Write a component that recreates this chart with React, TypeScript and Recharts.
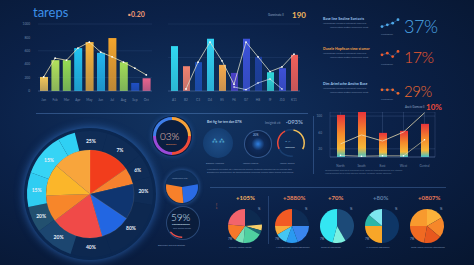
import React from 'react';
import { ComposedChart, Bar, Line, XAxis, YAxis, CartesianGrid, Cell, PieChart, Pie, LineChart } from 'recharts';

// top-left bars
const salesMonths = ['Jan', 'Feb', 'Mar', 'Apr', 'May', 'Jun', 'Jul', 'Aug', 'Sep', 'Oct'];
const salesBars = [210, 460, 460, 640, 730, 570, 790, 430, 120, 190];
const salesTrend = [210, 490, 460, 640, 730, 580, 510, 430, 340, 240];
const salesTicks = [0, 200, 400, 600, 800, 1000];
const salesColors = ['#f2c65a', '#b3e35c', '#95dc54', '#22c4f2', '#f7b43c', '#23b5ee', '#f5a52c', '#a3de58', '#1f4fc4', '#e8648e'];

// top-middle bars
const trafficCats = ['A1', 'B2', 'C3', 'D4', 'E5', 'F6', 'G7', 'H8', 'I9', 'J10', 'K11'];
const trafficBars = [67, 37, 43, 78, 39, 27, 78, 51, 28, 34, 54];
const trafficLineA = [null, 3, 43, 73, 45, 10, 73, 51, 29, 36, 55];
const trafficLineB = [null, null, null, null, null, 6, 2, 12, 18, 3, null];
const trafficColors = ['#31d9f2', '#f2826f', '#1d50b8', '#33d3f4', '#f6aa4c', '#4a40c8', '#3c52da', '#1e40a0', '#30d6da', '#3e50d8', '#f2605a'];

// right bars
const regionCats = ['North', 'South', 'East', 'West', 'Central'];
const regionBars = [103, 110, 59, 64, 81];
const regionLineA = [32, 54, 39, 61, 108];
const regionLineB = [4, 2, 3, 3, 42];
const regionTicks = [0, 20, 40, 60, 80, 100];

// KPIs
const kpiTitles = ['Base line Sealine Santacts', 'Dusele Hopfisan  view stamor', 'Dim Arimfache  Ansitw Base'];
const kpiValues = ['37%', '17%', '29%'];
const kpiColors = ['#4ea8e8', '#ee5a2e', '#f06a2e'];
const kpiSparks = [[2, 3, 4, 6], [3, 4, 2, 5], [3, 3, 3, 1]];

// big pie
const ringSpans = [30, 36, 22, 26, 60, 38, 36, 24, 32, 40, 16];
const ringTags = ['25%', '7%', '6%', '20%', '80%', '40%', '20%', '20%', '15%', '15%', ''];
const ringColors = ['#0f2c56', '#0f2c56', '#0f2c56', '#0f2c56', '#0d2850', '#0d2850', '#1c4670', '#22506f', '#2fcdf2', '#36d4f5', '#2fd0f4'];
const coreSpans = [55, 22, 47, 40, 69, 35, 42, 50];
const coreColors = ['#f23d1c', '#f7812e', '#0f3570', '#2266e2', '#f04a48', '#f7862a', '#fbb62a', '#f8a53c'];

// small charts
const gaugeSpans = [25, 25, 25, 25];
const gaugeColors = ['#f7a23a', '#ef4a3a', '#9a4ad8', '#3f7ee8'];
const miniSpans = [160, 95, 105];
const miniColors = ['#0e2d58', '#2a6be6', '#f7802a'];
const bottomLabels = ['+105%', '+3880%', '+70%', '+80%', '+0807%'];
const bottomLabelColors = ['#f4b262', '#e8845c', '#ea8a62', '#5f7fa6', '#ea7a58'];
const bottomCaptions = ['Oxfinar Sastrer Cohte', 'Mearight Ogh shiolde Bsrmuron', 'Sonar et Ushinome', 'Ar Priniaret appresene', 'Chite Worw Inarivee Stuhmerias'];
const bottomSpans = [
  [85, 20, 15, 65, 30, 60, 85],
  [90, 70, 40, 40, 30, 90],
  [150, 45, 165],
  [180, 90, 40, 50],
  [60, 70, 60, 80, 90],
];
const bottomColors = [
  ['#0d2a50', '#f7cf6a', '#1d6a72', '#4fd0a0', '#7ae0b8', '#f7782a', '#f2646c'],
  ['#0e2c55', '#3a86ee', '#2a9af0', '#44c6f2', '#f8aa3a', '#f25a24'],
  ['#1c4a78', '#7ef0e0', '#34e6f2'],
  ['#0e3666', '#f8a628', '#2cb6a8', '#7ee8f0'],
  ['#fbb23a', '#f6872a', '#e8581e', '#f06a22', '#f89a2e'],
];

const axisText = { fill: '#6f86a8', fontSize: 3.2 };
const FONT = 'Lato, "Open Sans", sans-serif';

const toRows = (cats: string[], cols: Record<string, any[]>) =>
  cats.map((c, i) => {
    const row: any = { name: c };
    Object.keys(cols).forEach((k) => (row[k] = cols[k][i]));
    return row;
  });

const toSlices = (spans: number[]) => spans.map((v, i) => ({ name: `s${i}`, value: v }));

function Txt({ x, y, size, color, children, weight = 400, style = {} }: any) {
  return (
    <div style={{ position: 'absolute', left: x, top: y, fontSize: size, color, fontWeight: weight, whiteSpace: 'nowrap', lineHeight: 1, fontFamily: FONT, ...style }}>
      {children}
    </div>
  );
}

function Box({ x, y, w, h, style = {} }: any) {
  return <div style={{ position: 'absolute', left: x, top: y, width: w, height: h, ...style }} />;
}

function Spark({ x, y, data, color }: any) {
  return (
    <div style={{ position: 'absolute', left: x, top: y }}>
      <LineChart width={20} height={16} data={data.map((v: number, i: number) => ({ i, v }))} margin={{ top: 2, right: 2, bottom: 2, left: 2 }}>
        <YAxis hide domain={[0, 7]} />
        <Line dataKey="v" stroke="#3d7fc4" strokeWidth={0.5} dot={{ r: 1.4, fill: color, stroke: 'none' }} isAnimationActive={false} />
      </LineChart>
    </div>
  );
}

function MiniPie({ cx, cy, r, spans, colors, inner = 0, start = 90 }: any) {
  const s = r * 2 + 4;
  return (
    <div style={{ position: 'absolute', left: cx - s / 2, top: cy - s / 2 }}>
      <PieChart width={s} height={s} margin={{ top: 0, right: 0, bottom: 0, left: 0 }}>
        <Pie data={toSlices(spans)} dataKey="value" cx="50%" cy="50%" innerRadius={inner} outerRadius={r} startAngle={start} endAngle={start - 360} stroke="none" isAnimationActive={false}>
          {spans.map((_: number, i: number) => (
            <Cell key={i} fill={colors[i]} />
          ))}
        </Pie>
      </PieChart>
    </div>
  );
}

const RAD = Math.PI / 180;

function ringLabel(p: any) {
  const r = (p.innerRadius + p.outerRadius) / 2;
  const x = p.cx + r * Math.cos(-p.midAngle * RAD);
  const y = p.cy + r * Math.sin(-p.midAngle * RAD);
  return (
    <text x={x} y={y} fill="#e8eef8" fontSize={5} fontWeight={700} textAnchor="middle" dominantBaseline="central" fontFamily={FONT}>
      {ringTags[p.index]}
    </text>
  );
}

export default function App() {
  const salesData = toRows(salesMonths, { bar: salesBars, trend: salesTrend });
  const trafficData = toRows(trafficCats, { bar: trafficBars, a: trafficLineA, b: trafficLineB });
  const regionData = toRows(regionCats, { bar: regionBars, a: regionLineA, b: regionLineB });

  return (
    <div
      style={{
        position: 'absolute',
        left: 0,
        top: 0,
        width: 474,
        height: 265,
        overflow: 'hidden',
        fontFamily: FONT,
        background: 'radial-gradient(ellipse at 40% 45%, #123462 0%, #0b2148 50%, #071630 100%)',
      }}
    >
      {/* dividers */}
      <Box x={36} y={113} w={272} h={0.6} style={{ background: 'rgba(110,160,230,0.35)' }} />
      <Box x={313} y={116} w={0.6} h={58} style={{ background: 'rgba(110,160,230,0.3)' }} />
      <Box x={210} y={187} w={236} h={0.6} style={{ background: 'rgba(110,160,230,0.3)' }} />
      <Box x={268} y={196} w={0.6} h={48} style={{ background: 'rgba(110,160,230,0.25)' }} />

      {/* top-left chart */}
      <Txt x={33} y={6} size={13} color="#3d90e8" weight={400}>tareps</Txt>
      <Txt x={128} y={11} size={7} color="#f29a74" weight={700}>▪0.20</Txt>
      <div style={{ position: 'absolute', left: 22, top: 16 }}>
        <ComposedChart width={136} height={88} data={salesData} margin={{ top: 8, right: 6, bottom: 3, left: 2 }}>
          <defs>
            {salesColors.map((c, i) => (
              <linearGradient key={i} id={`sg${i}`} x1="0" y1="0" x2="0" y2="1">
                <stop offset="0%" stopColor={c} stopOpacity={1} />
                <stop offset="100%" stopColor={c} stopOpacity={0.75} />
              </linearGradient>
            ))}
          </defs>
          <CartesianGrid vertical={false} stroke="rgba(110,150,210,0.25)" strokeWidth={0.5} />
          <XAxis dataKey="name" tick={axisText} tickLine={false} axisLine={{ stroke: 'rgba(140,170,220,0.5)', strokeWidth: 0.5 }} height={10} interval={0} />
          <YAxis domain={[0, 1000]} ticks={salesTicks} tick={axisText} tickLine={false} axisLine={false} width={14} />
          <Bar dataKey="bar" barSize={8} isAnimationActive={false}>
            {salesBars.map((_, i) => (
              <Cell key={i} fill={`url(#sg${i})`} />
            ))}
          </Bar>
          <Line dataKey="trend" type="linear" stroke="#e6dcae" strokeWidth={0.8} dot={{ r: 0.9, fill: '#fff', stroke: 'none' }} isAnimationActive={false} />
        </ComposedChart>
      </div>

      {/* top-middle chart */}
      <Txt x={268} y={14} size={3} color="#8ea4c4">Ganninate ll</Txt>
      <Txt x={292} y={11} size={8} color="#f3b85e" weight={700}>190</Txt>
      <div style={{ position: 'absolute', left: 165, top: 16 }}>
        <ComposedChart width={140} height={88} data={trafficData} margin={{ top: 8, right: 5, bottom: 3, left: 3 }}>
          <defs>
            {trafficColors.map((c, i) => (
              <linearGradient key={i} id={`tg${i}`} x1="0" y1="0" x2="0" y2="1">
                <stop offset="0%" stopColor={c} stopOpacity={1} />
                <stop offset="100%" stopColor={c} stopOpacity={0.8} />
              </linearGradient>
            ))}
          </defs>
          <CartesianGrid vertical={false} stroke="rgba(110,150,210,0.22)" strokeWidth={0.5} />
          <XAxis dataKey="name" tick={axisText} tickLine={false} axisLine={{ stroke: 'rgba(140,170,220,0.5)', strokeWidth: 0.5 }} height={10} interval={0} />
          <YAxis hide domain={[0, 100]} />
          <Bar dataKey="bar" barSize={7} isAnimationActive={false}>
            {trafficBars.map((_, i) => (
              <Cell key={i} fill={`url(#tg${i})`} />
            ))}
          </Bar>
          <Line dataKey="a" type="linear" stroke="#d8dcc8" strokeWidth={0.8} dot={{ r: 0.9, fill: '#fff', stroke: 'none' }} connectNulls isAnimationActive={false} />
          <Line dataKey="b" type="linear" stroke="#c8d8e8" strokeWidth={0.7} dot={{ r: 0.8, fill: '#fff', stroke: 'none' }} connectNulls isAnimationActive={false} />
        </ComposedChart>
      </div>

      {/* KPI rows */}
      {kpiTitles.map((t, i) => {
        const top = [17, 47, 82][i];
        return (
          <React.Fragment key={i}>
            <Txt x={323} y={top} size={3.6} color={i === 1 ? '#f2a04a' : '#9cc4ec'} weight={700}>{t}</Txt>
            <Txt x={323} y={top + 5} size={2.6} color="#6c84a6">Velonstega finimcial bitrmest casuvere</Txt>
            <Txt x={330} y={top + 9} size={2.6} color="#6c84a6">Insuleration patter sasarnine seldt</Txt>
            <Spark x={380} y={top - 1} data={kpiSparks[i]} color={kpiColors[i]} />
            <Txt x={381} y={top + 16} size={2.6} color="#6c84a6">Linstapoer</Txt>
            <Txt x={404} y={top + [0, 2, 2][i]} size={[18, 16, 15][i]} color={kpiColors[i]} weight={300} style={{ letterSpacing: -0.5 }}>
              {kpiValues[i]}
            </Txt>
          </React.Fragment>
        );
      })}

      {/* right chart */}
      <Txt x={405} y={106} size={3} color="#8ea4c4">Ascit Gamew ll</Txt>
      <Txt x={426} y={103} size={8} color="#ee4a3a" weight={700}>10%</Txt>
      <div style={{ position: 'absolute', left: 314, top: 112 }}>
        <ComposedChart width={126} height={55} data={regionData} margin={{ top: 0, right: 5, bottom: 0, left: 2 }}>
          <defs>
            <linearGradient id="rg" x1="0" y1="0" x2="0" y2="1">
              <stop offset="0%" stopColor="#e8343a" />
              <stop offset="45%" stopColor="#f58a2a" />
              <stop offset="80%" stopColor="#f7b83a" />
              <stop offset="100%" stopColor="#3cc0c8" />
            </linearGradient>
          </defs>
          <CartesianGrid stroke="rgba(140,170,220,0.35)" strokeWidth={0.5} />
          <XAxis dataKey="name" tick={axisText} tickLine={false} axisLine={{ stroke: 'rgba(140,170,220,0.5)', strokeWidth: 0.5 }} height={10} interval={0} />
          <YAxis domain={[0, 110]} ticks={regionTicks} tick={axisText} tickLine={false} axisLine={false} width={14} />
          <Bar dataKey="bar" fill="url(#rg)" barSize={8} isAnimationActive={false} />
          <Line dataKey="a" type="linear" stroke="#e8dcb0" strokeWidth={0.8} dot={false} isAnimationActive={false} />
          <Line dataKey="b" type="linear" stroke="#e8dcb0" strokeWidth={0.6} dot={{ r: 0.8, fill: '#fff', stroke: 'none' }} isAnimationActive={false} />
        </ComposedChart>
      </div>
      <Txt x={325} y={170} size={2.4} color="#5d7699">Toesmanetiet manlosrit consemt oure imdelicr tecnmadnsenoe fio ritomes</Txt>
      <Txt x={325} y={173} size={2.4} color="#5d7699">Vnoasenaiset tarle siltm etoiuse neame luoamse rosste etiurnes</Txt>

      {/* big pie */}
      <Box x={90 - 66} y={194 - 66} w={132} h={132} style={{ borderRadius: '50%', background: '#0b2750', boxShadow: '0 0 10px rgba(70,150,255,0.55)' }} />
      <div style={{ position: 'absolute', left: 20, top: 124 }}>
        <PieChart width={140} height={140} margin={{ top: 0, right: 0, bottom: 0, left: 0 }}>
          <Pie data={toSlices(ringSpans)} dataKey="value" cx="50%" cy="50%" innerRadius={44} outerRadius={63} startAngle={104} endAngle={-256} stroke="none" label={ringLabel} labelLine={false} isAnimationActive={false}>
            {ringSpans.map((_, i) => (
              <Cell key={i} fill={ringColors[i]} />
            ))}
          </Pie>
          <Pie data={toSlices(coreSpans)} dataKey="value" cx="50%" cy="50%" outerRadius={44} startAngle={90} endAngle={-270} stroke="rgba(255,200,120,0.25)" strokeWidth={0.4} isAnimationActive={false}>
            {coreSpans.map((_, i) => (
              <Cell key={i} fill={coreColors[i]} />
            ))}
          </Pie>
        </PieChart>
      </div>

      {/* gauge 03% */}
      <Box x={172 - 20} y={136 - 20} w={40} h={40} style={{ borderRadius: '50%', background: '#0a1e40', boxShadow: '0 0 5px rgba(60,130,230,0.4)' }} />
      <MiniPie cx={172} cy={136} r={19} inner={16} spans={gaugeSpans} colors={gaugeColors} />
      <Txt x={160} y={131} size={10} color="#f0c8b8" weight={300}>03%</Txt>
      <Txt x={166} y={143} size={2.6} color="#f08a4a">Bnoefiler</Txt>

      {/* mini pie */}
      <Box x={182 - 17} y={187 - 17} w={34} h={34} style={{ borderRadius: '50%', background: '#0e2d58', boxShadow: '0 0 4px rgba(80,150,240,0.5)' }} />
      <MiniPie cx={182} cy={187} r={16} spans={miniSpans} colors={miniColors} start={170} />
      <Txt x={172} y={178} size={2.4} color="#7f98bc">Ienctarnes ulte</Txt>

      {/* 59% */}
      <Box x={182 - 16} y={222 - 16} w={32} h={32} style={{ borderRadius: '50%', background: '#0a1d3c', border: '0.6px solid rgba(90,140,210,0.4)' }} />
      <MiniPie cx={182} cy={222} r={16} inner={14.5} spans={[22, 14, 64]} colors={['transparent', '#f0504a', 'transparent']} start={-10} />
      <Txt x={171} y={212} size={10} color="#cfe0f4" weight={300}>59%</Txt>
      <Txt x={172} y={223} size={2.6} color="#cfe0f4" weight={700}>Sovnanaleseine</Txt>
      <Txt x={173} y={227} size={2.2} color="#7f98bc">Issle enetas oerhta</Txt>
      <Txt x={158} y={245} size={2.4} color="#7f98bc">Emarame celcrom Bestme</Txt>

      {/* middle circles */}
      <Txt x={207} y={121} size={3.4} color="#b8cce6" weight={700}>Bet fig for ten dan 07%</Txt>
      <Txt x={265} y={122} size={2.8} color="#7f98bc">Imsiginsk ett</Txt>
      <Txt x={286} y={119} size={6} color="#8faad0" weight={700}>·093%</Txt>
      <Box x={203} y={128} w={30} h={30} style={{ borderRadius: '50%', background: 'radial-gradient(circle, #1f4f88 0%, #153e72 70%, #0f3060 100%)' }} />
      <Txt x={212} y={138} size={5} color="#6ad4f4">⁂ ⁂</Txt>
      <Box x={244} y={130} w={26} h={26} style={{ borderRadius: '50%', background: 'radial-gradient(circle, #2f7fe0 0%, #0f2a58 35%, #0a1c3c 100%)', border: '0.6px solid rgba(90,140,210,0.5)' }} />
      <Txt x={253} y={134} size={2.8} color="#9cc0ea">20%</Txt>
      <MiniPie cx={291} cy={143} r={14} inner={12.5} spans={[30, 15, 20, 25, 10]} colors={['#f2bf5a', 'transparent', '#1a3f70', '#ef4a3a', '#1a3f70']} start={80} />
      <Txt x={285} y={140} size={4} color="#7fc4e8">~ ⌐</Txt>
      <Txt x={285} y={147} size={2.4} color="#d8e4f2">Ibmerane</Txt>
      <Txt x={206} y={162} size={2.6} color="#7f98bc">Emoon Aolfhine</Txt>
      <Txt x={243} y={162} size={2.6} color="#7f98bc">Iencier Sholfe</Txt>
      <Txt x={280} y={162} size={2.6} color="#7f98bc">Iencie Sholfe</Txt>
      <Txt x={207} y={168} size={2.2} color="#6a83a8">Maseetgeth ieuvoetht atc ir tlgcuoeriatn bsnuna recatnetn cndlintee the oul nsoleqs ittce</Txt>
      <Txt x={207} y={171} size={2.2} color="#6a83a8">Beodtiuuerh ipsaetecrteel ete tdontleeotegac reaesoem aremeo atdnu tebnse oaserhtnese</Txt>

      {/* bottom pies */}
      <Txt x={214} y={205} size={2.4} color="#d07050" style={{ transform: 'rotate(-90deg)' }}>Ssnne</Txt>
      {bottomLabels.map((l, i) => {
        const cx = [245, 292, 337, 382, 427][i];
        return (
          <React.Fragment key={i}>
            <Txt x={cx - 9} y={195} size={6} color={bottomLabelColors[i]} weight={700}>{l}</Txt>
            <MiniPie cx={cx} cy={226} r={17} spans={bottomSpans[i]} colors={bottomColors[i]} />
            <Txt x={cx + 13} y={208} size={3} color="#9ab4d4">%</Txt>
            <Txt x={cx - 17} y={238} size={3} color="#9ab4d4">7%</Txt>
            <Txt x={cx - 16} y={247} size={2.4} color="#7f98bc">{bottomCaptions[i]}</Txt>
          </React.Fragment>
        );
      })}
    </div>
  );
}
